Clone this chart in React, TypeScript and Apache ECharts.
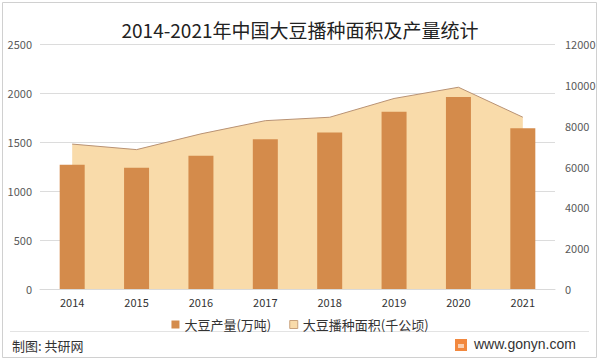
import React, { useEffect, useRef } from "react";
import * as echarts from "echarts";

const years = ["2014", "2015", "2016", "2017", "2018", "2019", "2020", "2021"];
const output = [1268.6, 1236.7, 1359.6, 1528.2, 1596.7, 1809.2, 1960.2, 1640.0];
const area = [7098, 6827, 7599, 8245, 8413, 9332, 9882, 8415];
const outputName = "大豆产量(万吨)";
const areaName = "大豆播种面积(千公顷)";

export default function App() {
  const ref = useRef<HTMLDivElement>(null);
  useEffect(() => {
    const chart = echarts.init(ref.current!, null, { renderer: "svg" });
    const font = "'Microsoft YaHei', 'Noto Sans CJK SC', sans-serif";
    chart.setOption({
      animation: false,
      backgroundColor: "#ffffff",
      textStyle: { fontFamily: font },
      title: {
        text: "2014-2021年中国大豆播种面积及产量统计",
        left: "center",
        top: 15,
        textStyle: { fontSize: 19, fontWeight: "normal", color: "#222", fontFamily: font },
      },
      legend: {
        top: 313,
        left: "center",
        itemWidth: 8,
        itemHeight: 8,
        itemGap: 18,
        textStyle: { fontSize: 13, color: "#333", fontFamily: font },
        data: [
          { name: outputName, icon: "rect" },
          { name: areaName, icon: "rect", itemStyle: { color: "#F9DBAA", borderColor: "#C9A27C", borderWidth: 1 } },
        ],
      },
      grid: { left: 40, right: 45, top: 44, bottom: 72 },
      xAxis: {
        type: "category",
        data: years,
        boundaryGap: true,
        axisTick: { show: false },
        axisLine: { lineStyle: { color: "#D9D9D9" } },
        axisLabel: { fontSize: 11, color: "#333", margin: 7 },
      },
      yAxis: [
        {
          type: "value",
          min: 0,
          max: 2500,
          interval: 500,
          axisLine: { show: false },
          axisTick: { show: false },
          splitLine: { lineStyle: { color: "#DCDCDC" } },
          axisLabel: { fontSize: 11, color: "#595959", margin: 8, formatter: (v: number) => String(v) },
        },
        {
          type: "value",
          min: 0,
          max: 12000,
          interval: 2000,
          axisLine: { show: false },
          axisTick: { show: false },
          splitLine: { show: false },
          axisLabel: { fontSize: 11, color: "#595959", margin: 10, formatter: (v: number) => String(v) },
        },
      ],
      series: [
        {
          name: areaName,
          type: "line",
          yAxisIndex: 1,
          data: area,
          symbol: "none",
          z: 1,
          lineStyle: { color: "#B89274", width: 1 },
          itemStyle: { color: "#F9DBAA" },
          areaStyle: { color: "#F9DBAA", opacity: 1 },
        },
        {
          name: outputName,
          type: "bar",
          yAxisIndex: 0,
          data: output,
          barWidth: 25,
          z: 3,
          itemStyle: { color: "#D48B4B" },
        },
      ],
      graphic: [
        {
          type: "rect",
          shape: { x: 2.5, y: 2.5, width: 594, height: 355 },
          style: { fill: "none", stroke: "#D0D0D0", lineWidth: 1 },
          silent: true,
        },
        {
          type: "line",
          shape: { x1: 10, y1: 331.5, x2: 589, y2: 331.5 },
          style: { stroke: "#E3E3E3", lineWidth: 1 },
          silent: true,
        },
        {
          type: "text",
          left: 12,
          top: 339,
          style: { text: "制图: 共研网", fontSize: 13, fill: "#333", fontFamily: font },
        },
        {
          type: "rect",
          shape: { x: 455, y: 339, width: 12, height: 12 },
          style: { fill: "#F2883E" },
        },
        {
          type: "rect",
          shape: { x: 458, y: 344, width: 6, height: 4 },
          style: { fill: "#FFFFFF", opacity: 0.6 },
        },
        {
          type: "text",
          left: 474,
          top: 337,
          style: { text: "www.gonyn.com", fontSize: 14, fill: "#333", fontFamily: "Arial, 'Liberation Sans', sans-serif" },
        },
      ],
    });
    return () => chart.dispose();
  }, []);
  return <div ref={ref} style={{ width: 600, height: 361, position: "absolute", left: 0, top: 0 }} />;
}
